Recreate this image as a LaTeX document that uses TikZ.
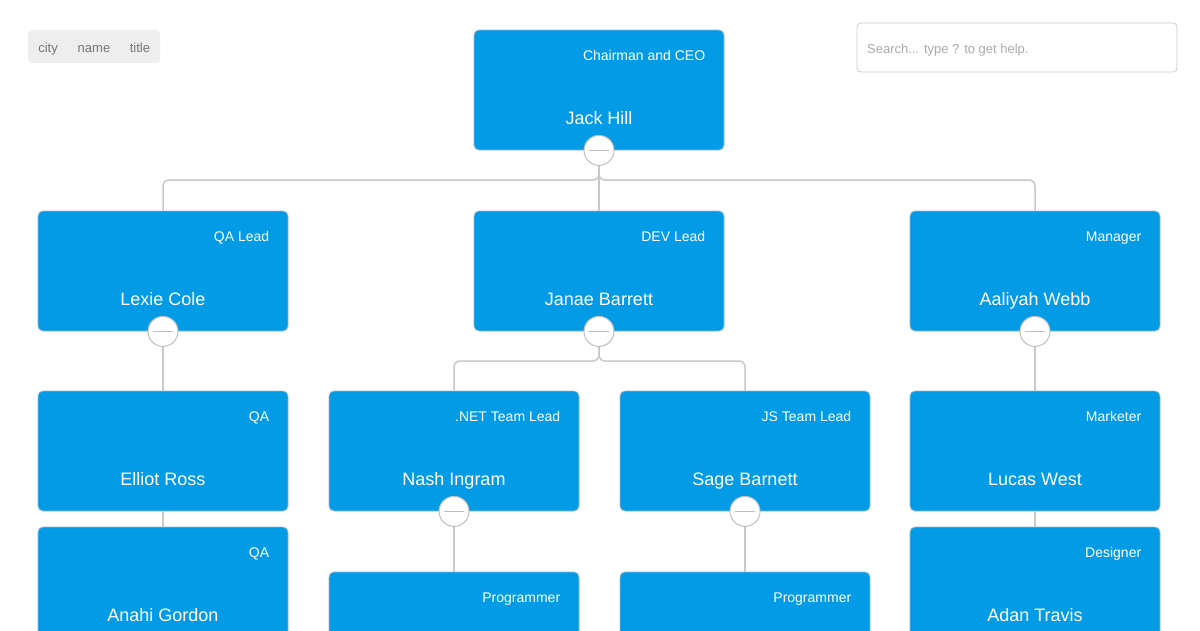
\documentclass[tikz,border=0pt]{standalone}
\usepackage{fontspec}
\setmainfont{Liberation Sans}
\usetikzlibrary{calc}
\definecolor{cardblue}{RGB}{3,155,229}
\definecolor{cardedge}{RGB}{150,185,210}
\definecolor{linegray}{RGB}{200,200,200}
\definecolor{btnedge}{RGB}{190,190,190}
\definecolor{legendgray}{RGB}{238,238,238}
\definecolor{legendtext}{RGB}{117,117,117}
\definecolor{searchedge}{RGB}{204,204,204}
\definecolor{searchtext}{RGB}{170,170,170}
\tikzset{
 card/.style={draw=cardedge, fill=cardblue, rounded corners=5pt, minimum width=250pt, minimum height=120pt, inner sep=0pt, line width=0.8pt},
 ttl/.style={text=white, font=\fontsize{14}{16}\selectfont, anchor=mid east, inner sep=0pt},
 nm/.style={text=white, font=\fontsize{18}{20}\selectfont, anchor=mid, inner sep=0pt},
 btn/.style={circle, draw=btnedge, fill=white, minimum size=30pt, inner sep=0pt, line width=1pt},
 minus/.style={draw=btnedge, line width=1.2pt},
 conn/.style={draw=linegray, line width=1.5pt, rounded corners=6pt},
 legtxt/.style={text=legendtext, font=\fontsize{13}{15}\selectfont, inner sep=0pt, anchor=mid},
}
\newcommand\orgcard[5]{%
  \node[card] (#1) at (#2,#3+60) {};
  \node[ttl] (#1T) at ($(#1.north east)+(-19,28)$) {#4};
  \node[nm] (#1N) at ($(#1.north)+(0,92)$) {#5};
}
\newcommand\orgbtn[1]{%
  \node[btn] (#1B) at (#1.south) {};
  \draw[minus] ($(#1B.center)+(-10,0)$) -- ($(#1B.center)+(10,0)$);
}
\begin{document}
\begin{tikzpicture}[x=1pt,y=-1pt]
\clip (0,0) rectangle (1200,630);
\fill[white] (0,0) rectangle (1200,630);

% legend
\node[fill=legendgray, rounded corners=4pt, minimum width=132pt, minimum height=33pt, inner sep=0pt] (legend) at (94,46.5) {};
\node[legtxt] (lcity) at (48,50) {city};
\node[legtxt] (lname) at (94,50) {name};
\node[legtxt] (ltitle) at (140,50) {title};

% search box
\node[draw=searchedge, fill=white, rounded corners=4pt, minimum width=320pt, minimum height=49pt, inner sep=0pt, line width=0.8pt] (search) at (1017,47.5) {};
\node[text=searchtext, font=\fontsize{13}{15}\selectfont, anchor=mid west, inner sep=0pt] (searchT) at (867,51) {Search... type ? to get help.};

% cards
\orgcard{jack}{599}{30}{Chairman and CEO}{Jack Hill}
\orgcard{lexie}{163}{211}{QA Lead}{Lexie Cole}
\orgcard{janae}{599}{211}{DEV Lead}{Janae Barrett}
\orgcard{aaliyah}{1035}{211}{Manager}{Aaliyah Webb}
\orgcard{elliot}{163}{391}{QA}{Elliot Ross}
\orgcard{nash}{454}{391}{.NET Team Lead}{Nash Ingram}
\orgcard{sage}{745}{391}{JS Team Lead}{Sage Barnett}
\orgcard{lucas}{1035}{391}{Marketer}{Lucas West}
\orgcard{anahi}{163}{527}{QA}{Anahi Gordon}
\orgcard{adan}{1035}{527}{Designer}{Adan Travis}
\node[card] (prog1) at (454,632) {};
\node[ttl] (prog1T) at ($(prog1.north east)+(-19,28)$) {Programmer};
\node[card] (prog2) at (745,632) {};
\node[ttl] (prog2T) at ($(prog2.north east)+(-19,28)$) {Programmer};

% buttons
\orgbtn{jack}
\orgbtn{lexie}
\orgbtn{janae}
\orgbtn{aaliyah}
\orgbtn{nash}
\orgbtn{sage}

% connectors
\coordinate (bar1) at (599,180);
\coordinate (bar2) at (599,361);
\draw[conn] (jackB.south) -- (bar1) -| (lexie.north);
\draw[conn] (jackB.south) -- (bar1) -| (aaliyah.north);
\draw[conn] (jackB.south) -- (janae.north);
\draw[conn] (janaeB.south) -- (bar2) -| (nash.north);
\draw[conn] (janaeB.south) -- (bar2) -| (sage.north);
\draw[conn] (lexieB.south) -- (elliot.north);
\draw[conn] (aaliyahB.south) -- (lucas.north);
\draw[conn] (elliot.south) -- (anahi.north);
\draw[conn] (lucas.south) -- (adan.north);
\draw[conn] (nashB.south) -- (prog1.north);
\draw[conn] (sageB.south) -- (prog2.north);
\end{tikzpicture}
\end{document}
